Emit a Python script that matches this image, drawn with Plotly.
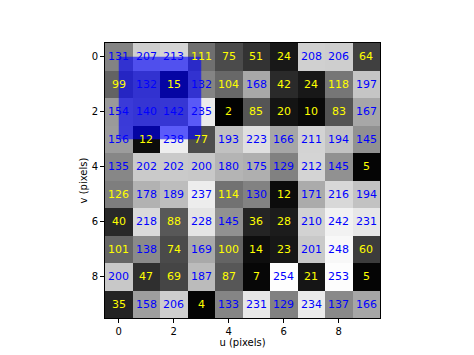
import plotly.graph_objects as go

u_ticks = [0, 2, 4, 6, 8]
v_ticks = [0, 2, 4, 6, 8]
pixels = [
    [131, 207, 213, 111, 75, 51, 24, 208, 206, 64],
    [99, 132, 15, 132, 104, 168, 42, 24, 118, 197],
    [154, 140, 142, 235, 2, 85, 20, 10, 83, 167],
    [156, 12, 238, 77, 193, 223, 166, 211, 194, 145],
    [135, 202, 202, 200, 180, 175, 129, 212, 145, 5],
    [126, 178, 189, 237, 114, 130, 12, 171, 216, 194],
    [40, 218, 88, 228, 145, 36, 28, 210, 242, 231],
    [101, 138, 74, 169, 100, 14, 23, 201, 248, 60],
    [200, 47, 69, 187, 87, 7, 254, 21, 253, 5],
    [35, 158, 206, 4, 133, 231, 129, 234, 137, 166],
]
roi = [0, 0, 3, 3]  # u0, v0, u1, v1
threshold = 128

n = len(pixels)
fig = go.Figure(go.Heatmap(
    z=pixels, x=list(range(n)), y=list(range(n)),
    colorscale=[[0, "black"], [1, "white"]], zmin=0, zmax=255,
    showscale=False, hoverinfo="skip",
))

fig.add_shape(type="rect", x0=roi[0], y0=roi[1], x1=roi[2], y1=roi[3],
              xref="x", yref="y", fillcolor="rgba(0,0,255,0.62)",
              line=dict(width=0), layer="above")

for v, row in enumerate(pixels):
    for u, val in enumerate(row):
        fig.add_annotation(x=u, y=v, text=str(val), showarrow=False,
                           font=dict(family="DejaVu Sans", size=11,
                                     color="yellow" if val < threshold else "blue"))

axis_common = dict(showgrid=False, zeroline=False, showline=True, linecolor="black",
                   linewidth=1, mirror=True, ticks="outside", ticklen=4,
                   tickcolor="black", automargin=False,
                   tickfont=dict(family="DejaVu Sans", size=10, color="black"),
                   title_font=dict(family="DejaVu Sans", size=10, color="black"))
fig.update_xaxes(range=[-0.5, n - 0.5], tickvals=u_ticks, title_text="u (pixels)",
                 title_standoff=2, constrain="domain", **axis_common)
fig.update_yaxes(range=[n - 0.5, -0.5], tickvals=v_ticks, title_text="v (pixels)",
                 title_standoff=2, scaleanchor="x", scaleratio=1, **axis_common)

fig.update_layout(width=466, height=347, margin=dict(l=97, r=94, t=35, b=37),
                  plot_bgcolor="white", paper_bgcolor="white", showlegend=False)

fig.write_html("out.html")
